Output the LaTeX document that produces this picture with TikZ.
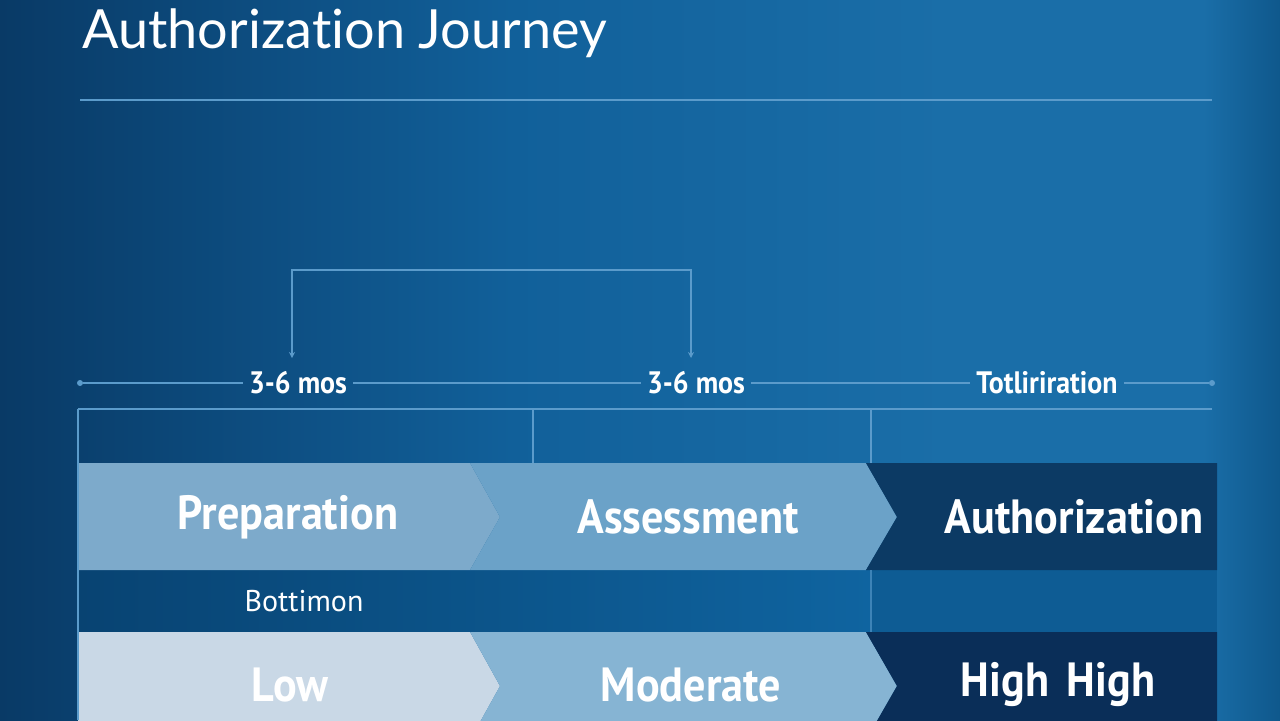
\documentclass[tikz,border=0pt]{standalone}
\usepackage{fontspec}
\setmainfont{PT Sans}
\newfontfamily\titlefont[Ligatures=NoCommon]{Lato}
\usetikzlibrary{arrows.meta}
\definecolor{bgA}{HTML}{093A66}
\definecolor{bgB}{HTML}{11609A}
\definecolor{bgC}{HTML}{1A6EA8}
\definecolor{bgD}{HTML}{0F588C}
\definecolor{lineC}{HTML}{5B9BCB}
\definecolor{prepC}{HTML}{7DAACB}
\definecolor{assC}{HTML}{6BA2C8}
\definecolor{authC}{HTML}{0C3A64}
\definecolor{lowC}{HTML}{C9D8E6}
\definecolor{modC}{HTML}{86B4D3}
\definecolor{highC}{HTML}{0A2E58}
\definecolor{midL}{HTML}{084372}
\definecolor{midR}{HTML}{0F64A0}
\definecolor{midRR}{HTML}{0E5C94}
\pgfdeclarehorizontalshading{bgshade}{100bp}{color(0bp)=(bgA); color(25bp)=(bgA); color(45bp)=(bgB); color(62bp)=(bgC); color(72bp)=(bgC); color(75bp)=(bgD); color(100bp)=(bgD)}
\newcommand{\narrow}[2]{\scalebox{#1}[1]{#2}}
\begin{document}
\begin{tikzpicture}[x=0.5pt,y=-0.5pt,
  rule/.style={draw=lineC, line width=1pt},
  phase/.style={text=white, font=\bfseries\fontsize{24}{28}\selectfont, inner sep=0pt},
  tlabel/.style={text=white, font=\bfseries\fontsize{15.5}{18}\selectfont, inner sep=3pt},
  enddot/.style={circle, fill=lineC, inner sep=0pt, minimum size=3pt}]
\useasboundingbox (0,0) rectangle (1280,720);
\shade[shading=bgshade] (0,0) rectangle (1280,720);

% title
\node[anchor=base west, text=white, inner sep=0pt, font=\titlefont\fontsize{27}{31}\selectfont] (title) at (82,48) {Authorization Journey};
\draw[rule] (80,100) -- (1212,100);

% bracket
\coordinate (br1) at (292,358);
\coordinate (br2) at (691,358);
\draw[rule, {Stealth[length=3pt,width=3pt]}-{Stealth[length=3pt,width=3pt]}] (br1) -- (292,270) -| (br2);

% timeline
\node[enddot] (dL) at (80,383) {};
\node[enddot] (dR) at (1212,383) {};
\node[tlabel] (t1) at (298,383) {\narrow{0.9}{3-6 mos}};
\node[tlabel] (t2) at (696,383) {\narrow{0.9}{3-6 mos}};
\node[tlabel] (t3) at (1047,383) {\narrow{0.9}{Totliriration}};
\draw[rule] (dL) -- (t1);
\draw[rule] (t1) -- (t2);
\draw[rule] (t2) -- (t3);
\draw[rule] (t3) -- (dR);

% row 2 band
\shade[left color=midL, right color=midR] (78,570) rectangle (871,632);
\fill[midRR] (871,570) rectangle (1217,632);

% row 1 chevrons
\fill[prepC] (78,463) -- (470,463) -- (500,517) -- (470,570) -- (78,570) -- cycle;
\fill[assC] (470,463) -- (866,463) -- (897,517) -- (866,570) -- (470,570) -- (500,517) -- cycle;
\fill[authC] (866,463) -- (1217,463) -- (1217,570) -- (866,570) -- (897,517) -- cycle;

% row 3 chevrons
\fill[lowC] (78,632) -- (470,632) -- (500,686) -- (470,740) -- (78,740) -- cycle;
\fill[modC] (470,632) -- (866,632) -- (897,686) -- (866,740) -- (470,740) -- (500,686) -- cycle;
\fill[highC] (866,632) -- (1217,632) -- (1217,740) -- (866,740) -- (897,686) -- cycle;

% frame lines
\draw[rule] (78,409) -- (1212,409);
\draw[rule] (78,409) -- (78,720);
\draw[rule, line width=0.6pt] (533,409) -- (533,463);
\draw[rule, line width=0.6pt] (871,409) -- (871,463);
\draw[lineC!60!bgB, line width=0.6pt] (871,570) -- (871,632);

% labels
\node[phase] (prep) at (288,517) {\narrow{0.92}{Preparation}};
\node[phase] (ass) at (688,517) {\narrow{0.92}{Assessment}};
\node[phase] (auth) at (1074,517) {\narrow{0.92}{Authorization}};
\node[tlabel, font=\fontsize{15}{18}\selectfont] (bott) at (304,601) {Bottimon};
\node[phase] (low) at (290,685) {\narrow{0.92}{Low}};
\node[phase] (mod) at (691,685) {\narrow{0.92}{Moderate}};
\node[phase] (high) at (1058,685) {\narrow{0.92}{High\hspace{0.4em}High}};
\end{tikzpicture}
\end{document}
